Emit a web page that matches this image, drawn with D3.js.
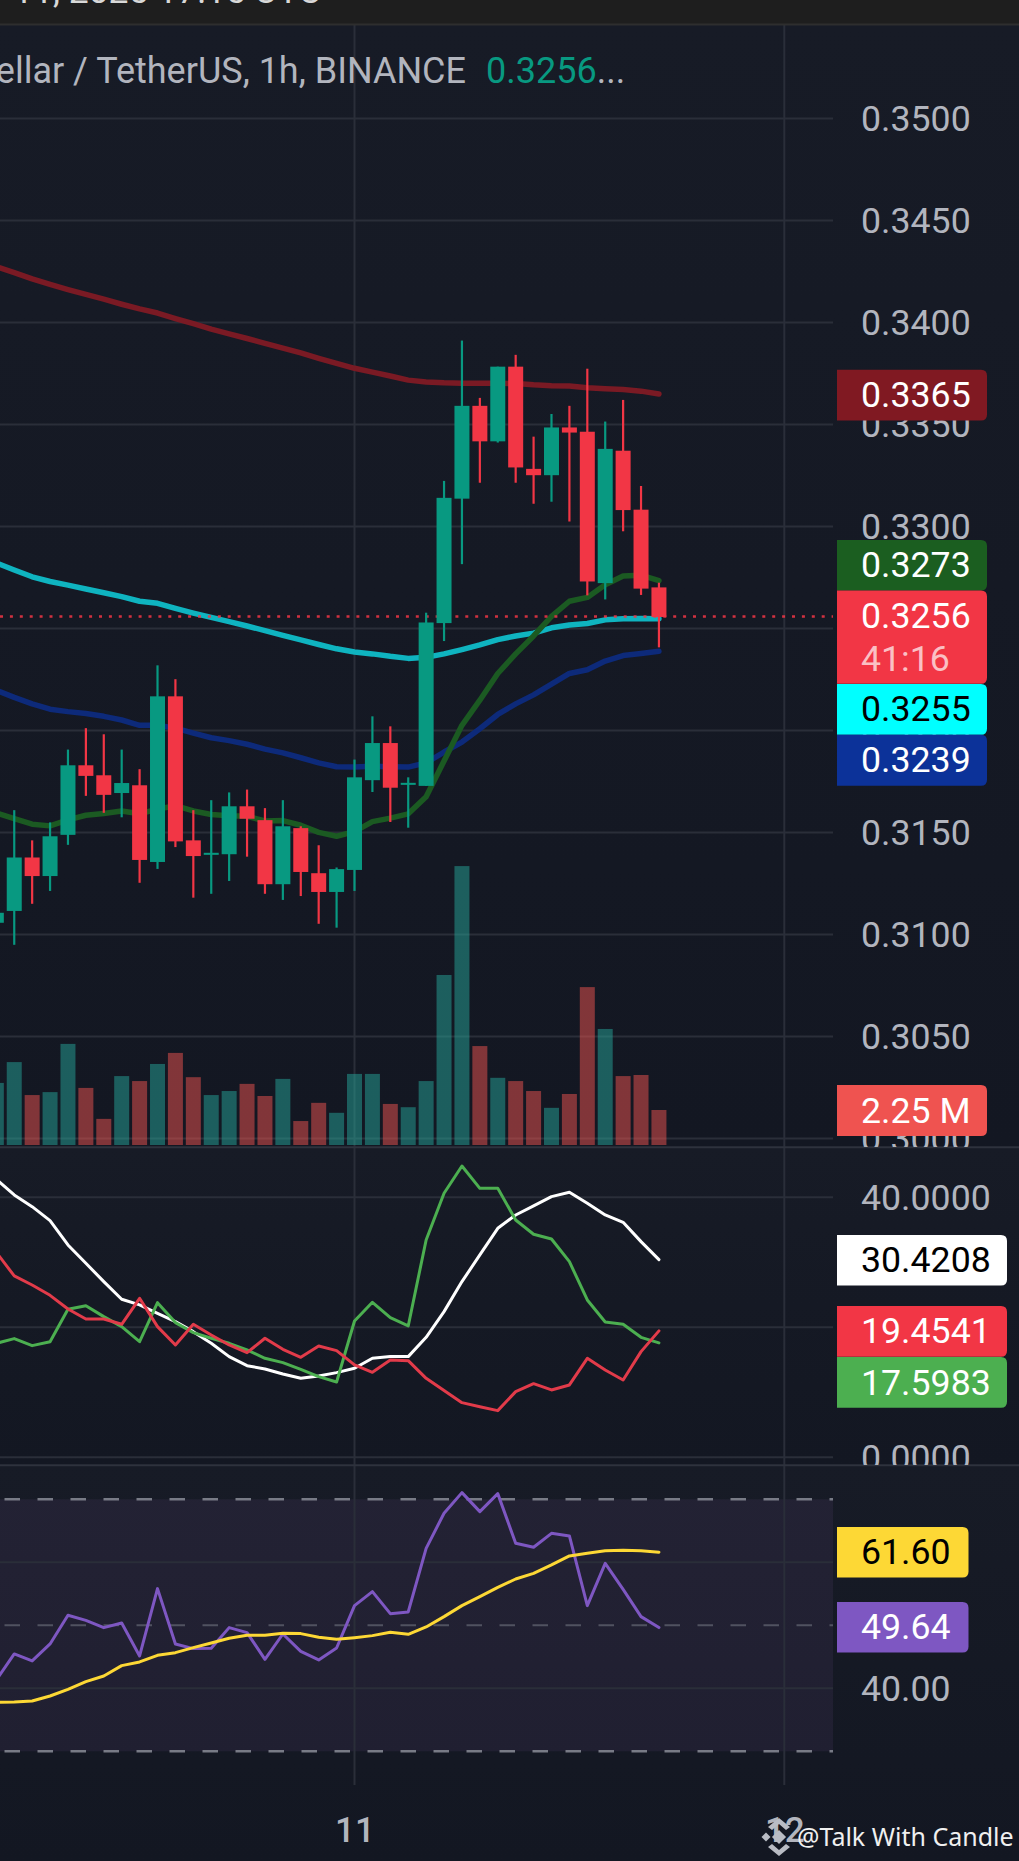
<!DOCTYPE html>
<html>
<head>
<meta charset="utf-8">
<title>Stellar / TetherUS</title>
<script src="https://cdn.jsdelivr.net/npm/d3@7"></script>
<style>
    html, body { margin: 0; padding: 0; background: #131722; overflow: hidden; }
    svg { display: block; }
    text { font-family: Roboto, sans-serif; }
</style>
</head>
<body>
<div id="chart"></div>
<script>
// Hours counted from the "11" tick
var hours = d3.range(-20, 18);

var opens = [.31057,.31115,.31377,.31286,.31488,.31829,.3178,.31693,.31731,.31355,.32167,.31461,.3139,.31393,.31628,.3156,.31246,.31521,.313,.31208,
    .31316,.31756,.31938,.31733,.31728,.32526,.33136,.33591,.33417,.33783,.33282,.33251,.33485,.33464,.32722,.33371,.33082,.32701];
var highs = [.3113,.31609,.31461,.31549,.31906,.32011,.31981,.31906,.3181,.32319,.32251,.31609,.31658,.31696,.3171,.31619,.31658,.3153,.31437,.31328,
    .31857,.32069,.3202,.3177,.32577,.33223,.33911,.3363,.33783,.33841,.3344,.33551,.33591,.33773,.33514,.3362,.33198,.32724];
var lows = [.3103,.30949,.3115,.31213,.31439,.31679,.31596,.31574,.31253,.31321,.31428,.3118,.31199,.31262,.31381,.31199,.31169,.31188,.31052,.31033,
    .31213,.31698,.31551,.31523,.31728,.32438,.32815,.33214,.33411,.33214,.33111,.33121,.33024,.32662,.32642,.32976,.32664,.32407];
var closes = [.31106,.31377,.31286,.31481,.31829,.31777,.31684,.31742,.31365,.32167,.31456,.31384,.314,.31628,.31567,.31246,.3153,.31306,.31208,.3132,
    .3177,.31938,.31719,.31743,.32529,.3314,.33591,.33417,.33783,.33289,.33251,.33485,.3346,.3273,.3338,.3308,.32695,.32556];

// Volume in millions
var volumes = [3.99,5.33,3.21,3.40,6.50,3.67,1.68,4.43,4.11,5.21,5.92,4.36,3.21,3.47,3.93,3.15,4.25,1.54,2.71,2.07,
    4.57,4.57,2.64,2.43,4.11,10.93,17.93,6.36,4.32,4.11,3.47,2.39,3.28,10.15,7.46,4.43,4.50,2.25];

// Moving averages
var maRed = [.34273,.34244,.34213,.34186,.34161,.34137,.34114,.34089,.34066,.34046,.34019,.33994,.33967,.33944,.33921,.33897,.33874,.33851,.33824,.33799,
    .33775,.33756,.33737,.33717,.33708,.33704,.33702,.33702,.33702,.337,.33694,.3369,.33688,.3368,.33675,.33671,.33663,.33649];
var maCyan = [.32821,.32786,.32753,.3273,.32712,.32693,.32675,.32656,.32633,.32623,.32598,.32575,.32554,.32533,.32512,.32489,.32466,.32444,.32421,.324,
    .32384,.32375,.32363,.32353,.32358,.32375,.32396,.32419,.32445,.32463,.32477,.32503,.32517,.32524,.32542,.32547,.32549,.32547];
var maBlue = [.32197,.32162,.3213,.32104,.32092,.32083,.32069,.32051,.32025,.32025,.32011,.31987,.31964,.3195,.31932,.31908,.3189,.31866,.31841,.31822,
    .3182,.31824,.31822,.3182,.31841,.31894,.31943,.32008,.32078,.3213,.32174,.32227,.32279,.32297,.3234,.32367,.32377,.32388];
var maGreen = [.31596,.31567,.3154,.31532,.31561,.31584,.31593,.31605,.31591,.31614,.31631,.31605,.31588,.31582,.31579,.31556,.31558,.31535,.315,.31481,
    .31504,.31553,.3157,.31591,.31675,.3185,.32025,.32148,.32279,.32375,.32463,.32559,.32633,.32652,.32714,.32757,.32761,.32734];

// DMI pane
var adxLine = [42.77,40.36,38.56,36.41,32.67,29.85,27.03,24.31,23.44,22.15,20.87,19.33,17.54,15.49,14.10,13.59,12.82,12.15,12.51,13.03,
    13.69,15.23,15.49,15.49,18.46,22.41,27.03,31.13,35.23,37.28,38.67,40.10,40.77,39.08,37.28,36.15,33.18,30.42];
var diMinus = [31.54,27.90,26.51,24.92,22.82,21.28,21.28,20.46,24.46,20.10,17.28,20.46,18.82,17.28,16.10,18.31,16.62,15.38,17.13,16.41,
    14.21,13.08,14.97,14.87,12.15,10.26,8.41,7.79,7.18,10.10,11.33,10.36,11.13,15.23,13.44,11.90,16.26,19.45];
var diPlus = [17.54,18.26,17.18,17.79,22.77,23.33,21.64,20.10,17.79,23.79,20.72,19.18,18.31,17.54,16.51,15.23,14.56,13.54,12.41,11.59,
    20.97,23.85,21.49,20.21,33.44,40.62,44.82,41.38,41.38,36.51,34.31,33.59,30.10,24.21,20.82,20.46,18.46,17.60];

// RSI pane
var rsiLine = [41.32,45.45,44.34,47.04,51.59,50.79,49.63,50.37,45.13,55.82,47.04,46.30,46.35,49.63,48.84,44.60,48.62,45.87,44.50,46.40,
    53.12,55.34,51.85,52.12,62.22,67.78,71.06,68.04,70.90,63.02,62.38,64.60,64.18,53.12,59.84,55.71,51.38,49.64];
var rsiAvg = [37.78,37.83,37.99,38.78,39.84,41.06,41.96,43.60,44.18,45.24,45.66,46.46,47.20,47.94,48.41,48.41,48.73,48.68,48.10,47.78,
    48.04,48.36,48.89,48.57,49.74,51.38,53.12,54.55,56.03,57.35,58.25,59.58,61.01,61.43,61.85,61.90,61.85,61.60];

// Ticks and labels
var priceTicks = [0.35, 0.345, 0.34, 0.335, 0.33, 0.325, 0.32, 0.315, 0.31, 0.305, 0.30];
var dmiTicks = [40, 20, 0];
var rsiTicks = [60, 50, 40];
var rsiDashed = [70, 50, 30];
var timeTicks = [0, 24];
var timeLabels = ["11", "12"];
var lastPrice = 0.32558;

var width = 1019, height = 1861;
var gridRight = 833, labelX = 861;
var fontSize = 35.7;
var gridColor = "#2a2e39", axisColor = "#b2b5be";
var up = "#089981", down = "#f23645";

var x = d3.scaleLinear().domain([0, 24]).range([354.5, 784.3]);
var priceY = d3.scaleLinear().domain([0.30, 0.35]).range([1138.4, 118.4]);
var volY = d3.scaleLinear().domain([0, 18]).range([1145, 865]);
var dmiY = d3.scaleLinear().domain([0, 40]).range([1457.3, 1197.3]);
var rsiY = d3.scaleLinear().domain([30, 70]).range([1751.3, 1499.3]);

var svg = d3.select("#chart").append("svg").attr("width", width).attr("height", height);
var defs = svg.append("defs");

var grad = defs.append("linearGradient").attr("id", "paneFill").attr("x1", 0).attr("x2", 0).attr("y1", 0).attr("y2", 1);
grad.append("stop").attr("offset", "0%").attr("stop-color", "#171b26");
grad.append("stop").attr("offset", "100%").attr("stop-color", "#131722");

// Backgrounds of the three panes
var panes = [[24, 1147], [1147, 1465], [1465, 1861]];
svg.selectAll("rect.pane").data(panes).enter().append("rect")
    .attr("class", "pane")
    .attr("x", 0).attr("width", width)
    .attr("y", function (d) { return d[0]; })
    .attr("height", function (d) { return d[1] - d[0]; })
    .attr("fill", "url(#paneFill)");

// Clip axis labels to their pane
function addClip(id, top, bottom) {
    defs.append("clipPath").attr("id", id).append("rect")
        .attr("x", 0).attr("y", top).attr("width", width).attr("height", bottom - top);
}
addClip("clipPrice", 24, 1147);
addClip("clipDmi", 1147, 1465);
addClip("clipRsi", 1465, 1861);

// RSI band
svg.append("rect")
    .attr("x", 0).attr("width", gridRight)
    .attr("y", rsiY(70)).attr("height", rsiY(30) - rsiY(70))
    .attr("fill", "#9060b0").attr("opacity", 0.1);

// Horizontal grid
function hGrid(ticks, scale) {
    svg.append("g").selectAll("line").data(ticks).enter().append("line")
        .attr("x1", 0).attr("x2", gridRight)
        .attr("y1", function (d) { return scale(d); })
        .attr("y2", function (d) { return scale(d); })
        .attr("stroke", gridColor).attr("stroke-width", 2);
}
hGrid(priceTicks, priceY);
hGrid(dmiTicks, dmiY);
hGrid(rsiTicks.filter(function (d) { return d != 50; }), rsiY);

// Vertical grid
svg.append("g").selectAll("line").data(timeTicks).enter().append("line")
    .attr("x1", function (d) { return x(d); })
    .attr("x2", function (d) { return x(d); })
    .attr("y1", 24).attr("y2", 1785)
    .attr("stroke", gridColor).attr("stroke-width", 2);

// RSI dashed levels
svg.append("g").selectAll("line").data(rsiDashed).enter().append("line")
    .attr("x1", 0).attr("x2", gridRight)
    .attr("y1", function (d) { return rsiY(d); })
    .attr("y2", function (d) { return rsiY(d); })
    .attr("stroke", "#787b86")
    .attr("stroke-opacity", function (d) { return d == 50 ? 0.55 : 1; })
    .attr("stroke-width", function (d) { return d == 50 ? 2 : 2.6; })
    .attr("stroke-dasharray", "15.5 17.5")
    .attr("stroke-dashoffset", -4.5);

// Pane separators
svg.append("g").selectAll("line").data([1147.3, 1465.2]).enter().append("line")
    .attr("x1", 0).attr("x2", width)
    .attr("y1", function (d) { return d; })
    .attr("y2", function (d) { return d; })
    .attr("stroke", "#2e323d").attr("stroke-width", 2);

// Volume
svg.append("g").selectAll("rect").data(volumes).enter().append("rect")
    .attr("x", function (d, i) { return x(hours[i]) - 7.5; })
    .attr("width", 15)
    .attr("y", function (d) { return volY(d); })
    .attr("height", function (d) { return volY(0) - volY(d); })
    .attr("fill", function (d, i) { return closes[i] >= opens[i] ? "#26a69a" : "#ef5350"; })
    .attr("opacity", 0.5);

// Draws one series as a line
function drawLine(values, scale, color, lineWidth) {
    var line = d3.line()
        .x(function (d, i) { return x(hours[i]); })
        .y(function (d) { return scale(d); });
    svg.append("path")
        .attr("d", line(values))
        .attr("fill", "none")
        .attr("stroke", color)
        .attr("stroke-width", lineWidth)
        .attr("stroke-linejoin", "round")
        .attr("stroke-linecap", "round");
}

drawLine(maRed, priceY, "#7a1a24", 5.5);
drawLine(maCyan, priceY, "#0fb4c0", 5.5);
drawLine(maBlue, priceY, "#0d2a7a", 5.5);
drawLine(maGreen, priceY, "#1b5a22", 5.5);

// Last price dotted line
svg.append("line")
    .attr("x1", 0).attr("x2", gridRight)
    .attr("y1", priceY(lastPrice)).attr("y2", priceY(lastPrice))
    .attr("stroke", down).attr("stroke-opacity", 0.85)
    .attr("stroke-width", 2.5).attr("stroke-dasharray", "3 6.9");

// Candles
var candles = svg.append("g");
candles.selectAll("line").data(hours).enter().append("line")
    .attr("x1", function (d) { return x(d); })
    .attr("x2", function (d) { return x(d); })
    .attr("y1", function (d, i) { return priceY(highs[i]); })
    .attr("y2", function (d, i) { return priceY(lows[i]); })
    .attr("stroke", function (d, i) { return closes[i] >= opens[i] ? up : down; })
    .attr("stroke-width", 2.2);
candles.selectAll("rect").data(hours).enter().append("rect")
    .attr("x", function (d) { return x(d) - 7.5; })
    .attr("width", 15)
    .attr("y", function (d, i) { return priceY(Math.max(opens[i], closes[i])); })
    .attr("height", function (d, i) { return Math.max(2, Math.abs(priceY(opens[i]) - priceY(closes[i]))); })
    .attr("fill", function (d, i) { return closes[i] >= opens[i] ? up : down; });

// DMI and RSI lines
drawLine(adxLine, dmiY, "#ffffff", 3);
drawLine(diPlus, dmiY, "#4caf50", 3);
drawLine(diMinus, dmiY, "#e23b4a", 3);
drawLine(rsiLine, rsiY, "#7e57c2", 3);
drawLine(rsiAvg, rsiY, "#fdd835", 3);

// Axes
function priceAxis(axis, clipId) {
    var g = svg.append("g")
        .attr("clip-path", "url(#" + clipId + ")")
        .attr("transform", "translate(" + labelX + ",0)")
        .call(axis.tickSize(0).tickPadding(0));
    g.select(".domain").remove();
    g.selectAll("text")
        .attr("fill", axisColor)
        .attr("font-size", fontSize)
        .attr("x", 0)
        .attr("dy", "0.34em")
        .attr("text-anchor", "start");
}
priceAxis(d3.axisRight(priceY).tickValues(priceTicks).tickFormat(d3.format(".4f")), "clipPrice");
priceAxis(d3.axisRight(dmiY).tickValues(dmiTicks).tickFormat(d3.format(".4f")), "clipDmi");
priceAxis(d3.axisRight(rsiY).tickValues(rsiTicks).tickFormat(d3.format(".2f")), "clipRsi");

var timeAxis = svg.append("g")
    .attr("transform", "translate(0,1842)")
    .call(d3.axisBottom(x).tickValues(timeTicks).tickSize(0).tickPadding(0)
        .tickFormat(function (d, i) { return timeLabels[i]; }));
timeAxis.select(".domain").remove();
timeAxis.selectAll("text")
    .attr("y", 0).attr("dy", 0)
    .attr("fill", axisColor)
    .attr("font-size", 35)
    .attr("font-weight", 500)
    .attr("text-anchor", "middle");

// Value tags on the right, rounded on the right side only
function tagPath(x0, y0, x1, y1) {
    var r = 6;
    return "M" + x0 + "," + y0 + "H" + (x1 - r) + "Q" + x1 + "," + y0 + " " + x1 + "," + (y0 + r)
        + "V" + (y1 - r) + "Q" + x1 + "," + y1 + " " + (x1 - r) + "," + y1 + "H" + x0 + "Z";
}
function tag(text, top, bottom, right, fill, color, textY) {
    svg.append("path").attr("d", tagPath(837, top, right, bottom)).attr("fill", fill);
    svg.append("text")
        .attr("x", labelX)
        .attr("y", textY || (top + bottom) / 2)
        .attr("dy", "0.34em")
        .attr("font-size", fontSize)
        .attr("fill", color)
        .text(text);
}
tag("0.3365", 369.8, 420.4, 987, "#801922", "#ffffff");
tag("0.3273", 540, 590.6, 987, "#1b5e20", "#ffffff");
tag("0.3256", 590.6, 683.7, 987, "#f23645", "#ffffff", 616.3);
svg.append("text")
    .attr("x", labelX).attr("y", 659).attr("dy", "0.34em")
    .attr("font-size", fontSize).attr("fill", "#ffffff").attr("fill-opacity", 0.7)
    .text("41:16");
tag("0.3255", 684, 734.7, 987, "#00ffff", "#000000");
tag("0.3239", 734.7, 785.7, 987, "#0c3299", "#ffffff");
tag("2.25 M", 1085, 1136, 987, "#ef5350", "#ffffff");
tag("30.4208", 1235, 1285.6, 1007, "#ffffff", "#000000");
tag("19.4541", 1306, 1356.7, 1007, "#f23645", "#ffffff");
tag("17.5983", 1357, 1407.8, 1007, "#4caf50", "#ffffff");
tag("61.60", 1527, 1577.4, 968.5, "#fdd835", "#000000");
tag("49.64", 1601.9, 1652.6, 968.5, "#7e57c2", "#ffffff");

// Title row
svg.append("text").attr("x", 466).attr("y", 83)
    .attr("text-anchor", "end").attr("font-size", 36).attr("fill", axisColor)
    .text("Stellar / TetherUS, 1h, BINANCE");
svg.append("text").attr("x", 486).attr("y", 83).attr("font-size", 36).attr("fill", up)
    .text("0.3256")
    .append("tspan").attr("fill", axisColor).text("...");

// Top bar with the date, cut off by the top of the picture
svg.append("rect").attr("x", 0).attr("y", 0).attr("width", width).attr("height", 24).attr("fill", "#1e1e1e");
svg.append("line").attr("x1", 0).attr("x2", width).attr("y1", 24.5).attr("y2", 24.5)
    .attr("stroke", "#2e2e2e").attr("stroke-width", 2);
svg.append("text").attr("x", 13).attr("y", 3).attr("font-size", 35.5).attr("fill", "#d8d8d8")
    .text("11, 2025 17:15 UTC");

// Logo and watermark
var logo = svg.append("g").attr("transform", "translate(779,1837)").attr("fill", "#b9bcc4");
[[0, 0, 5], [-13, 0, 3.2]].forEach(function (d) {
    logo.append("rect")
        .attr("x", -d[2]).attr("y", -d[2]).attr("width", d[2] * 2).attr("height", d[2] * 2)
        .attr("transform", "translate(" + d[0] + "," + d[1] + ") rotate(45)");
});
logo.append("path").attr("d", "M-7,-7L0,-13L7,-7L11,-10L0,-19L-11,-10Z");
logo.append("path").attr("d", "M-7,7L0,13L7,7L11,10L0,19L-11,10Z");

svg.append("text").attr("x", 797).attr("y", 1845.5)
    .style("font-family", "'Noto Sans', sans-serif")
    .attr("font-size", 25).attr("fill", "#f0f0f0")
    .text("@Talk With Candle");
</script>
</body>
</html>
